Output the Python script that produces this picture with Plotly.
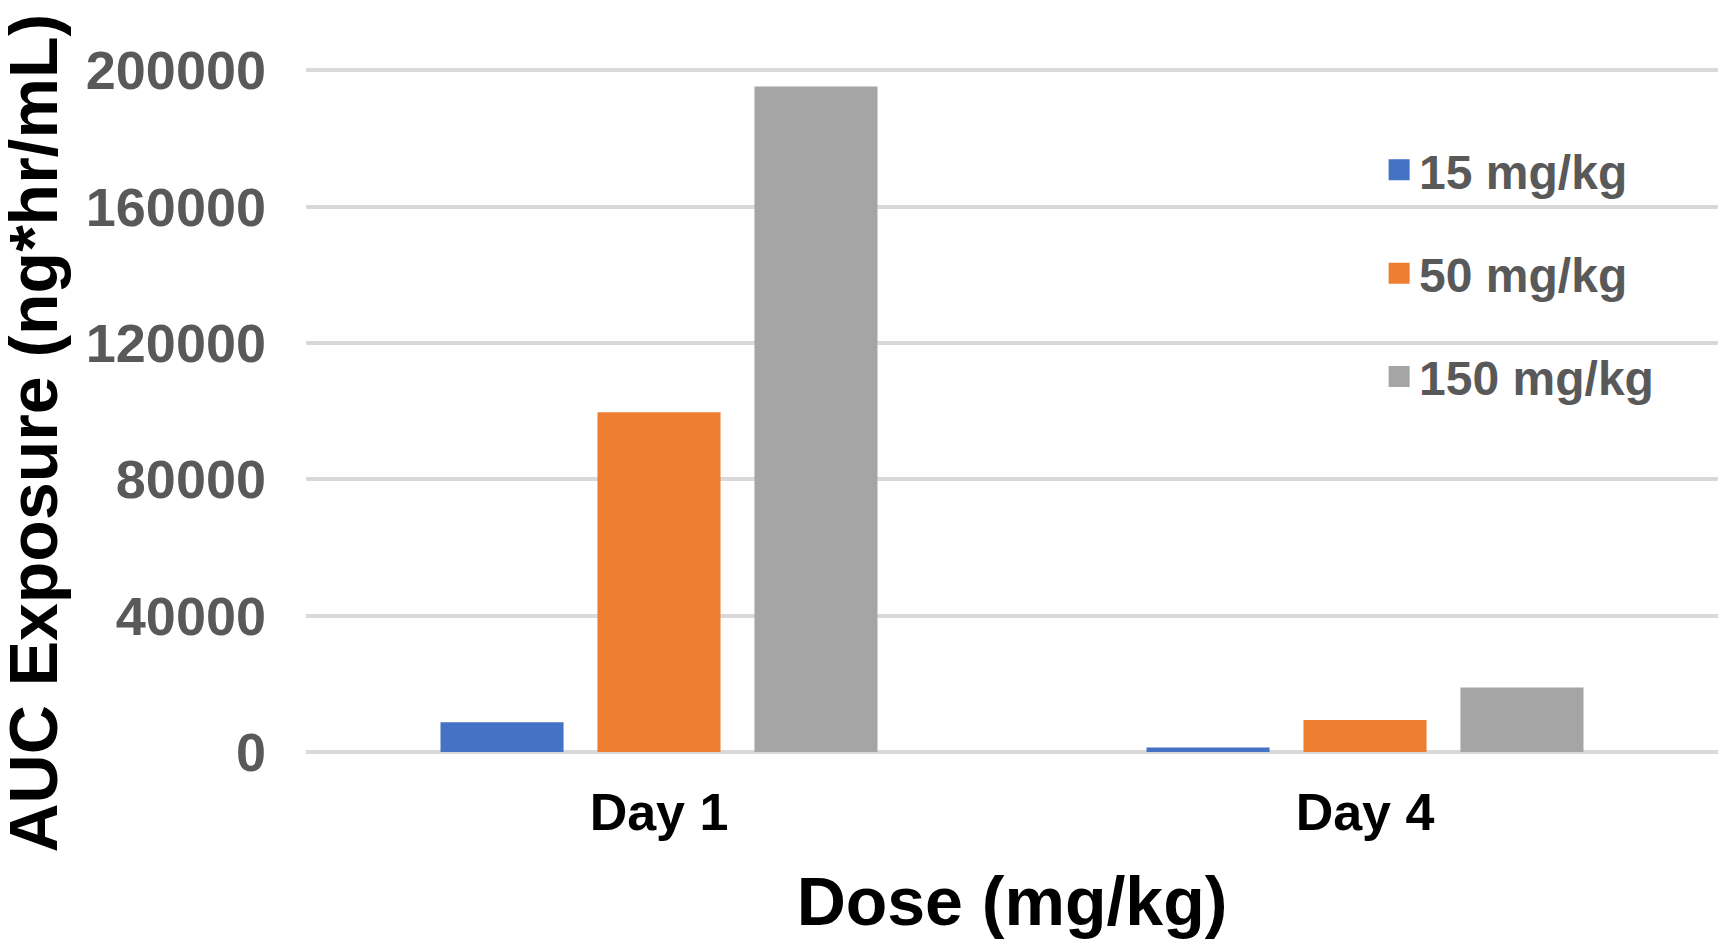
import plotly.graph_objects as go

categories = ["Day 1", "Day 4"]
series_names = ["15 mg/kg", "50 mg/kg", "150 mg/kg"]
dose_15 = [8700, 1300]
dose_50 = [99700, 9400]
dose_150 = [195300, 18900]
y_ticks = [0, 40000, 80000, 120000, 160000, 200000]
colors = ["#4472C4", "#ED7D31", "#A5A5A5"]

FONT = "Liberation Sans, Arial, sans-serif"

fig = go.Figure()
for name, vals, col in zip(series_names, [dose_15, dose_50, dose_150], colors):
    fig.add_trace(go.Bar(x=categories, y=vals, name=name, marker=dict(color=col, line=dict(width=0)),
                         showlegend=False, legendgroup=name))
    fig.add_trace(go.Scatter(x=[None], y=[None], mode="markers", name=name, legendgroup=name,
                             marker=dict(symbol="square", size=16, color=col, line=dict(color=col, width=5)),
                             showlegend=True))

fig.update_layout(
    width=1718, height=935,
    margin=dict(l=298, r=8, t=59, b=191),
    paper_bgcolor="white", plot_bgcolor="white",
    barmode="group", bargap=0.333, bargroupgap=0.216,
    font=dict(family=FONT),
    legend=dict(x=0.760, y=0.905, xanchor="left", yanchor="top",
                font=dict(family=FONT, size=48, color="#595959", weight="bold"),
                traceorder="grouped", tracegroupgap=38, bgcolor="rgba(0,0,0,0)",
                itemsizing="trace"),
    xaxis=dict(showgrid=False, showline=False, ticks="", zeroline=False,
               tickfont=dict(family=FONT, size=52, color="black", weight="bold"),
               ticklabelstandoff=25,
               title=dict(text="Dose (mg/kg)", font=dict(family=FONT, size=68, color="black", weight="bold"),
                          standoff=37)),
    yaxis=dict(range=[0, 201000], tickvals=y_ticks, ticktext=[str(v) for v in y_ticks],
               showgrid=True, gridcolor="#D9D9D9", gridwidth=3.5,
               zeroline=True, zerolinecolor="#D9D9D9", zerolinewidth=3.5,
               showline=False, ticks="",
               tickfont=dict(family=FONT, size=54, color="#595959", weight="bold"),
               ticklabelstandoff=39),
    annotations=[dict(text="AUC Exposure (ng*hr/mL)", textangle=-90, xref="paper", yref="paper",
                      x=-0.1935, y=0.466, xanchor="center", yanchor="middle", showarrow=False,
                      font=dict(family=FONT, size=68, color="black", weight="bold"))],
)

fig.write_html("out.html")
